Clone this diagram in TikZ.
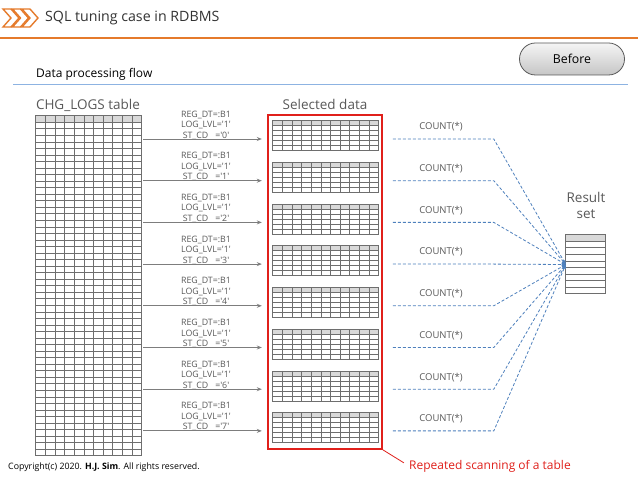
\documentclass[tikz,border=0pt]{standalone}
\usepackage{fontspec}
\setmainfont{Open Sans}
\usetikzlibrary{arrows.meta,positioning,calc}
\definecolor{Orange}{HTML}{E57A2B}
\definecolor{LineBlue}{HTML}{8DB3E2}
\definecolor{DashBlue}{HTML}{4F81BD}
\definecolor{FrameRed}{HTML}{E0201B}
\definecolor{CellGray}{HTML}{6E6E6E}
\definecolor{HeadGray}{HTML}{D9D9D9}
\definecolor{TextGray}{HTML}{595959}
\newcommand{\q}{\textquotesingle}

\begin{document}
\begin{tikzpicture}[
  x=1pt,y=-1pt,
  every node/.style={inner sep=0pt,text=TextGray},
  cell/.style={draw=CellGray,line width=0.85pt},
  headrow/.style={fill=HeadGray},
  chevron/.style={draw=Orange,fill=white,line width=1.4pt,line join=miter},
  arrow/.style={-{Stealth[length=5pt,width=4pt]},color=CellGray!90,line width=0.9pt},
  countline/.style={dash pattern=on 3pt off 2pt,color=DashBlue,line width=0.8pt,
    -{Latex[length=4pt,width=4pt]}},
  cond/.style={font=\fontsize{8.8}{10.5}\selectfont,align=center},
  countlbl/.style={font=\fontsize{9.5}{11}\selectfont},
  biglbl/.style={font=\fontsize{13.5}{16}\selectfont},
  button/.style={rectangle,rounded corners=16pt,draw=black!65,line width=0.8pt,
    top color=gray!8,bottom color=gray!45,minimum width=105pt,minimum height=32pt,
    font=\fontsize{12.3}{14}\selectfont,text=black}
]
\useasboundingbox (0,0) rectangle (638,478);
\fill[white] (0,0) rectangle (638,478);

% header
\foreach \k in {0,1,2}
  \draw[chevron] ({3+9.5*\k},9) -- ++(8,0) -- ++(8,9) -- ++(-8,9) -- ++(-8,0) -- ++(8,-9) -- cycle;
\node[anchor=west,font=\fontsize{14.2}{16}\selectfont,text=black!80] (title) at (45,18) {SQL tuning case in RDBMS};
\draw[Orange,line width=2pt] (0,38) -- (638,38);
\node[button] (before) at (572,59) {Before};
\node[anchor=west,font=\fontsize{12}{14}\selectfont,text=black] (flow) at (36,74) {Data processing flow};
\draw[LineBlue,line width=0.9pt] (13,84) -- (628,84);

% CHG_LOGS table
\node[minimum width=106pt,minimum height=340pt] (logs) at (89,286) {};
\begin{scope}[shift={(logs.north west)}]
  \fill[headrow] (0,0) rectangle (106,6.54);
  \foreach \c in {1,...,10} \draw[cell] ({\c*9.636},0) -- ++(0,340);
  \foreach \r in {1,...,51} \draw[cell] (0,{\r*6.538}) -- ++(106,0);
  \draw[cell] (0,0) rectangle (106,340);
\end{scope}
\node[biglbl,above right=4pt and 0pt of logs.north west] (logstitle) {CHG\_LOGS table};

% selected data
\node[draw=FrameRed,line width=1.6pt,minimum width=114pt,minimum height=334pt] (selbox) at (325,282) {};
\node[biglbl,above=4pt of selbox] (seltitle) {Selected data};

% result set
\node[minimum width=40pt,minimum height=59pt] (res) at (586,264.5) {};
\begin{scope}[shift={(res.north west)}]
  \fill[headrow] (0,0) rectangle (40,6.56);
  \foreach \r in {1,...,8} \draw[cell] (0,{\r*6.556}) -- ++(40,0);
  \draw[cell] (0,0) rectangle (40,59);
\end{scope}
\node[biglbl,align=center,above=16pt of res] (restitle) {Result\\set};

\foreach \i in {0,...,7}{
  \node[minimum width=106pt,minimum height=30pt] (sel\i) at (326,{136+41.7*\i}) {};
  \begin{scope}[shift={(sel\i.north west)}]
    \fill[headrow] (0,0) rectangle (106,5);
    \foreach \c in {1,...,10} \draw[cell] ({\c*9.636},0) -- ++(0,30);
    \foreach \r in {1,...,5} \draw[cell] (0,{\r*5}) -- ++(106,0);
    \draw[cell] (0,0) rectangle (106,30);
  \end{scope}
  \node[cond] (cond\i) at (206,{125+41.7*\i}) {REG\_DT=:B1\\LOG\_LVL=\q1\q\\ST\_CD\ \ \ =\q\i\q};
  \draw[arrow] ($(logs.east |- sel\i.west)+(1,3)$) -- ($(sel\i.west)+(-11,3)$);
  \node[countlbl] (cnt\i) at (441,{127+41.7*\i}) {COUNT(*)};
  \draw[countline] ($(selbox.east |- sel\i.east)+(10,3)$) -- ++(101,0) -- (res.west);
}

% footer
\node[anchor=west,font=\fontsize{8.8}{10}\selectfont,text=black] (copy) at (8,467) {Copyright(c) 2020. \textbf{H.J. Sim}. All rights reserved.};
\node[anchor=west,text=FrameRed,font=\fontsize{12}{14}\selectfont] (scan) at (409,466) {Repeated scanning of a table};
\draw[FrameRed,line width=0.8pt,shorten >=6pt] (selbox.south east) -- (scan.west);
\end{tikzpicture}
\end{document}
